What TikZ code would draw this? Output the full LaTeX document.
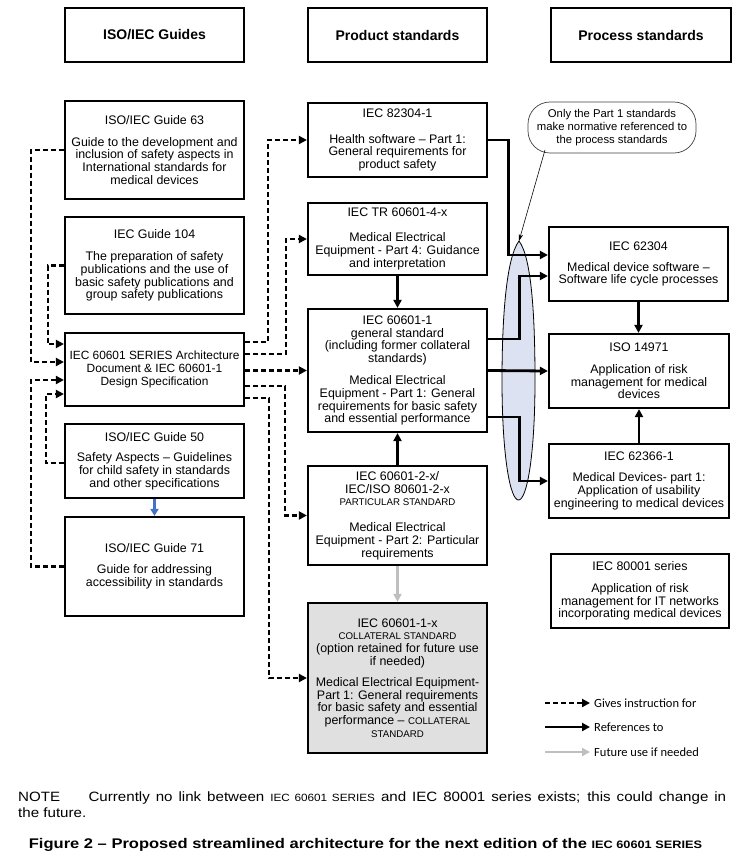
\documentclass[tikz,border=0pt]{standalone}
\usepackage{fontspec}
\setmainfont{Liberation Sans}
\newfontfamily\legfont{Carlito}
\newfontfamily\widefont[FakeStretch=1.18]{Liberation Sans}
\newfontfamily\notefont[FakeStretch=1.12]{Liberation Sans}
\usetikzlibrary{arrows.meta,calc}
\definecolor{boxgray}{HTML}{E0E0E0}
\definecolor{ellfill}{HTML}{DCE2F1}
\definecolor{futgray}{HTML}{BFBFBF}
\definecolor{arrblue}{HTML}{4472C4}
\newcommand\smc[1]{{\fontsize{9.7}{12.8}\selectfont #1}}
\begin{document}
\begin{tikzpicture}[x=1pt,y=-1pt,
 box/.style={draw, line width=2.2pt, align=center, inner sep=1pt, font=\fontsize{12.4}{12.8}\selectfont},
 hdr/.style={draw, line width=2.2pt, align=center, minimum height=54pt, font=\fontsize{14}{16}\selectfont\bfseries},
 instr/.style={line width=2.1pt, dash pattern=on 5pt off 3pt, -{Triangle[length=8pt,width=8pt]}},
 refs/.style={line width=2.8pt, -{Triangle[length=8pt,width=8pt]}},
 futr/.style={line width=2.4pt, futgray, -{Triangle[length=8pt,width=8pt]}},
 blu/.style={line width=2.4pt, arrblue, -{Triangle[length=7pt,width=8pt]}},
 legtext/.style={anchor=west, inner sep=0pt, font=\legfont\fontsize{12.5}{14}\selectfont},
]
\useasboundingbox (0,0) rectangle (749,861);

% headers
\node[hdr, minimum width=179pt] (h1) at (154.5,35) {ISO/IEC Guides};
\node[hdr, minimum width=179pt] (h2) at (397.5,35) {Product standards};
\node[hdr, minimum width=180pt] (h3) at (641,35) {Process standards};

% left column
\node[box, minimum width=179pt, minimum height=98pt] (g63) at (154.5,150)
 {ISO/IEC Guide 63\\[9pt]Guide to the development and\\inclusion of safety aspects in\\International standards for\\medical devices};
\node[box, minimum width=179pt, minimum height=97pt] (g104) at (154.5,265.5)
 {IEC Guide 104\\[9pt]The preparation of safety\\publications and the use of\\basic safety publications and\\group safety publications};
\node[box, minimum width=179pt, minimum height=73pt, font=\fontsize{11.9}{12.8}\selectfont] (arch) at (154.5,369.5)
 {IEC 60601 SERIES Architecture\\Document \& IEC 60601-1\\Design Specification};
\node[box, minimum width=179pt, minimum height=74pt] (g50) at (154.5,461)
 {ISO/IEC Guide 50\\[8pt]Safety Aspects – Guidelines\\for child safety in standards\\and other specifications};
\node[box, minimum width=179pt, minimum height=99pt] (g71) at (154.5,566.5)
 {ISO/IEC Guide 71\\[8pt]Guide for addressing\\accessibility in standards};

% middle column
\node[box, minimum width=179pt, minimum height=74pt] (p823) at (397.5,140)
 {IEC 82304-1\\[13pt]Health software – Part 1:\\General requirements for\\product safety};
\node[box, minimum width=179pt, minimum height=72pt] (ptr) at (397.5,239)
 {IEC TR 60601-4-x\\[12pt]Medical Electrical\\Equipment - Part 4: Guidance\\and interpretation};
\node[box, minimum width=179pt, minimum height=123pt] (p1) at (397.5,370.5)
 {IEC 60601-1\\general standard\\(including former collateral\\standards)\\[9pt]Medical Electrical\\Equipment - Part 1: General\\requirements for basic safety\\and essential performance};
\node[box, minimum width=179pt, minimum height=99pt] (p2) at (397.5,515.5)
 {IEC 60601-2-x/\\IEC/ISO 80601-2-x\\\smc{PARTICULAR STANDARD}\\[13pt]Medical Electrical\\Equipment - Part 2: Particular\\requirements};
\node[box, fill=boxgray, minimum width=179pt, minimum height=150pt] (p1x) at (397.5,678)
 {IEC 60601-1-x\\\smc{COLLATERAL STANDARD}\\(option retained for future use\\if needed)\\[8pt]Medical Electrical Equipment-\\Part 1: General requirements\\for basic safety and essential\\performance – \smc{COLLATERAL}\\\smc{STANDARD}};

% ellipse (drawn before the connectors crossing it)
\coordinate (etop) at (519,241);
\draw[fill=ellfill, line width=0.8pt] (etop) .. controls (506,258) and (502,320) .. (502,380)
  .. controls (502,455) and (510,500) .. (518.5,500)
  .. controls (527,500) and (535,455) .. (535,380)
  .. controls (535,320) and (532,258) .. (etop) -- cycle;

% right column
\node[draw, line width=0.7pt, black!75, text=black, rounded corners=22pt, align=center,
  minimum width=168pt, minimum height=51pt, inner sep=1pt, font=\fontsize{11.3}{13}\selectfont] (call) at (612,127.5)
 {Only the Part 1 standards\\make normative referenced to\\the process standards};
\node[box, minimum width=179pt, minimum height=74pt] (s623) at (638.5,264)
 {IEC 62304\\[8pt]Medical device software –\\Software life cycle processes};
\node[box, minimum width=180pt, minimum height=74pt] (s149) at (639,371)
 {ISO 14971\\[9pt]Application of risk\\management for medical\\devices};
\node[box, minimum width=180pt, minimum height=74pt] (s366) at (639,481)
 {IEC 62366-1\\[8pt]Medical Devices- part 1:\\Application of usability\\engineering to medical devices};
\node[box, minimum width=178pt, minimum height=74pt] (s800) at (640,591)
 {IEC 80001 series\\[9pt]Application of risk\\management for IT networks\\incorporating medical devices};

% callout pointer
\coordinate (cstart) at (545,150);
\draw[line width=0.6pt, -{Stealth[length=7pt,width=4.5pt]}] (cstart) -- (etop);

% dashed: guides -> architecture document
\draw[instr] (g63.west) -- ++(-33,0) |- ([yshift=7.5pt]arch.west);
\draw[instr] (g104.west) -- ++(-16,0) |- ([yshift=25.5pt]arch.west);
\draw[instr] (g71.west) -- ++(-33,0) |- ([yshift=-10.5pt]arch.west);
\draw[instr] ([yshift=-2pt]g50.west) -- ++(-18,0) |- ([yshift=-24.5pt]arch.west);

% dashed: architecture document -> product standards
\draw[instr] ([yshift=27.5pt]arch.east) -- ++(23,0) |- (p823.west);
\draw[instr] ([yshift=15.5pt]arch.east) -- ++(41,0) |- (ptr.west);
\draw[instr] ([yshift=-1pt]arch.east) -- (p1.west);
\draw[instr] ([yshift=-16.5pt]arch.east) -- ++(40,0) |- (p2.west);
\draw[instr] ([yshift=-28.5pt]arch.east) -- ++(24,0) |- (p1x.west);

% solid references
\draw[refs] (ptr.south) -- (p1.north);
\draw[refs] (p2.north) -- (p1.south);
\draw[futr] (p2.south) -- (p1x.north);
\draw[blu] (g50.south) -- (g71.north);
\draw[refs] (p823.east) -- ++(20,0) |- ([yshift=9pt]s623.west);
\draw[refs] ([yshift=31.5pt]p1.east) -- ++(31,0) |- ([yshift=-12pt]s623.west);
\draw[refs] (p1.east) -- (s149.west);
\draw[refs] ([yshift=-46.5pt]p1.east) -- ++(31,0) |- (s366.west);
\draw[refs] (s623.south) -- (s623.south |- s149.north);
\draw[refs] (s366.north) -- (s366.north |- s149.south);

% legend
\coordinate (la1) at (545,703); \coordinate (la2) at (590,703);
\coordinate (lb1) at (545,727); \coordinate (lb2) at (590,727);
\coordinate (lc1) at (545,752); \coordinate (lc2) at (590,752);
\draw[instr] (la1) -- (la2);
\draw[refs] (lb1) -- (lb2);
\draw[futr] (lc1) -- (lc2);
\node[legtext] (lt1) at (594,703) {Gives instruction for};
\node[legtext] (lt2) at (594,727) {References to};
\node[legtext] (lt3) at (594,752) {Future use if needed};

% note and caption
\node[anchor=west, inner sep=0pt, align=left, font=\notefont\fontsize{13.5}{16}\selectfont] (note) at (18,805)
 {\makebox[708pt][s]{NOTE\hspace{2.1em}Currently no link between {\fontsize{10.5}{16}\selectfont IEC 60601 SERIES} and IEC 80001 series exists; this could change in}\\the future.};
\node[inner sep=0pt, font=\widefont\bfseries\fontsize{14}{16}\selectfont] (cap) at (365.5,845)
 {Figure 2 – Proposed streamlined architecture for the next edition of the {\fontsize{10.8}{16}\selectfont IEC 60601 SERIES}};
\end{tikzpicture}
\end{document}
